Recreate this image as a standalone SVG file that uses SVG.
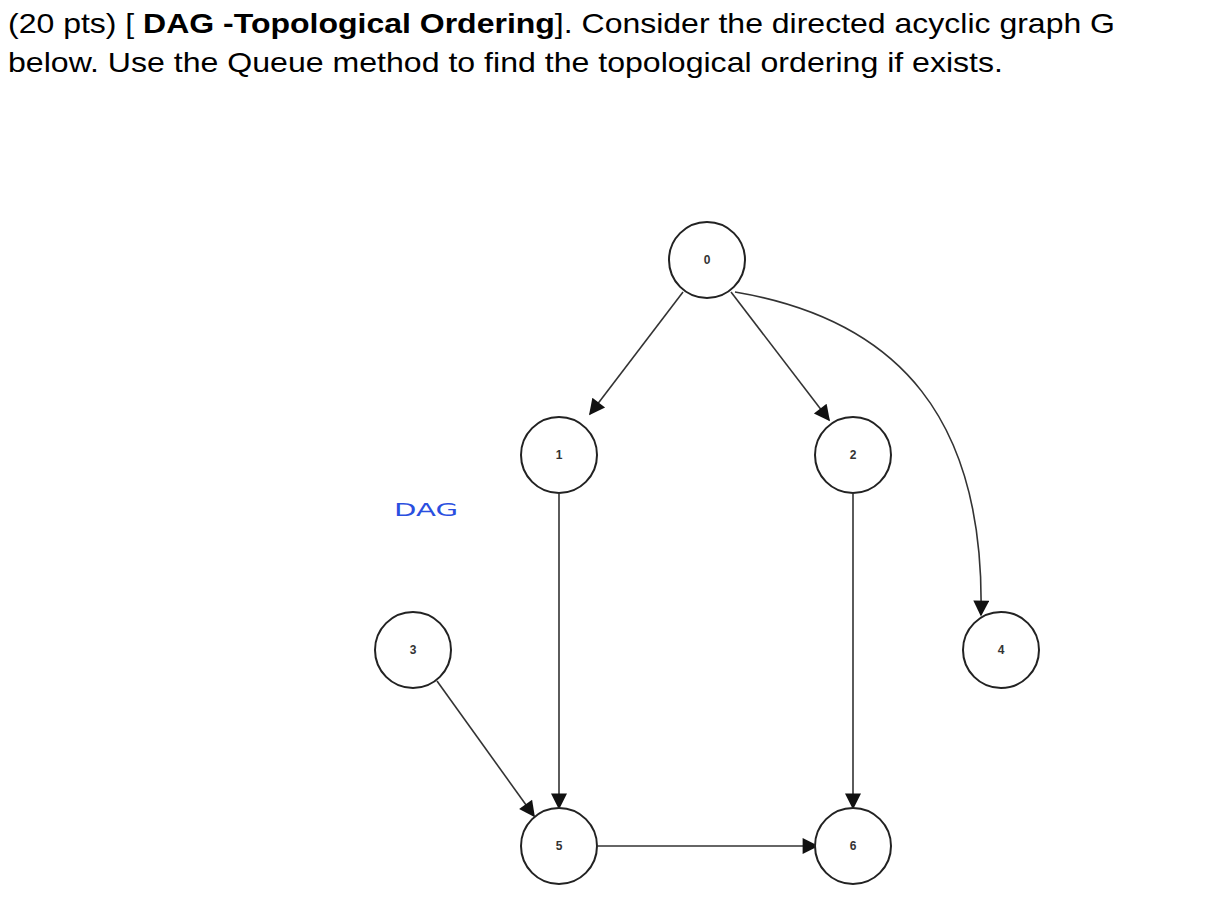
<svg xmlns="http://www.w3.org/2000/svg" width="1218" height="922" viewBox="0 0 1218 922">
<style>
.t{font-family:"Liberation Sans",Arial,sans-serif;font-size:28px;fill:#000}
.n circle{fill:#fff;stroke:#222;stroke-width:2}
.n text{font-family:"Liberation Sans",Arial,sans-serif;font-size:12px;font-weight:bold;fill:#333;text-anchor:middle}
.e path{fill:none;stroke:#333;stroke-width:1.6}
</style>
<defs>
<marker id="b" viewBox="0 0 10 10" refX="9" refY="5" markerWidth="18" markerHeight="16" markerUnits="userSpaceOnUse" orient="auto"><path d="M0,0L10,5L0,10z" fill="#111"/></marker></defs>
<rect width="1218" height="922" fill="#fff"/>
<text class="t" x="8" y="33" textLength="1107" lengthAdjust="spacingAndGlyphs">(20 pts) [ <tspan font-weight="bold">DAG -Topological Ordering</tspan>]. Consider the directed acyclic graph G</text>
<text class="t" x="8" y="72" textLength="995" lengthAdjust="spacingAndGlyphs">below. Use the Queue method to  find the topological ordering if exists.</text>
<text x="394" y="516" font-family="'DejaVu Sans',sans-serif" font-size="18" fill="#2a4fe0" textLength="64" lengthAdjust="spacingAndGlyphs">DAG</text>
<g class="e" id="edges">
<path d="M683,292L590,414" marker-end="url(#b)"/>
<path d="M731,292L829,420" marker-end="url(#b)"/>
<path d="M735,292C900,320 985,420 981,615" marker-end="url(#b)"/>
<path d="M559,494L559,808" marker-end="url(#b)"/>
<path d="M853,494L853,808" marker-end="url(#b)"/>
<path d="M437,681L534,816" marker-end="url(#b)"/>
<path d="M598,846L817,846" marker-end="url(#b)"/>
</g>
<g class="n" id="n0"><circle cx="707" cy="260" r="38"/><text x="707" y="264">0</text></g>
<g class="n" id="n1"><circle cx="559" cy="455" r="38"/><text x="559" y="459">1</text></g>
<g class="n" id="n2"><circle cx="853" cy="455" r="38"/><text x="853" y="459">2</text></g>
<g class="n" id="n3"><circle cx="413" cy="650" r="38"/><text x="413" y="654">3</text></g>
<g class="n" id="n4"><circle cx="1001" cy="650" r="38"/><text x="1001" y="654">4</text></g>
<g class="n" id="n5"><circle cx="559" cy="846" r="38"/><text x="559" y="850">5</text></g>
<g class="n" id="n6"><circle cx="853" cy="846" r="38"/><text x="853" y="850">6</text></g>
</svg>
